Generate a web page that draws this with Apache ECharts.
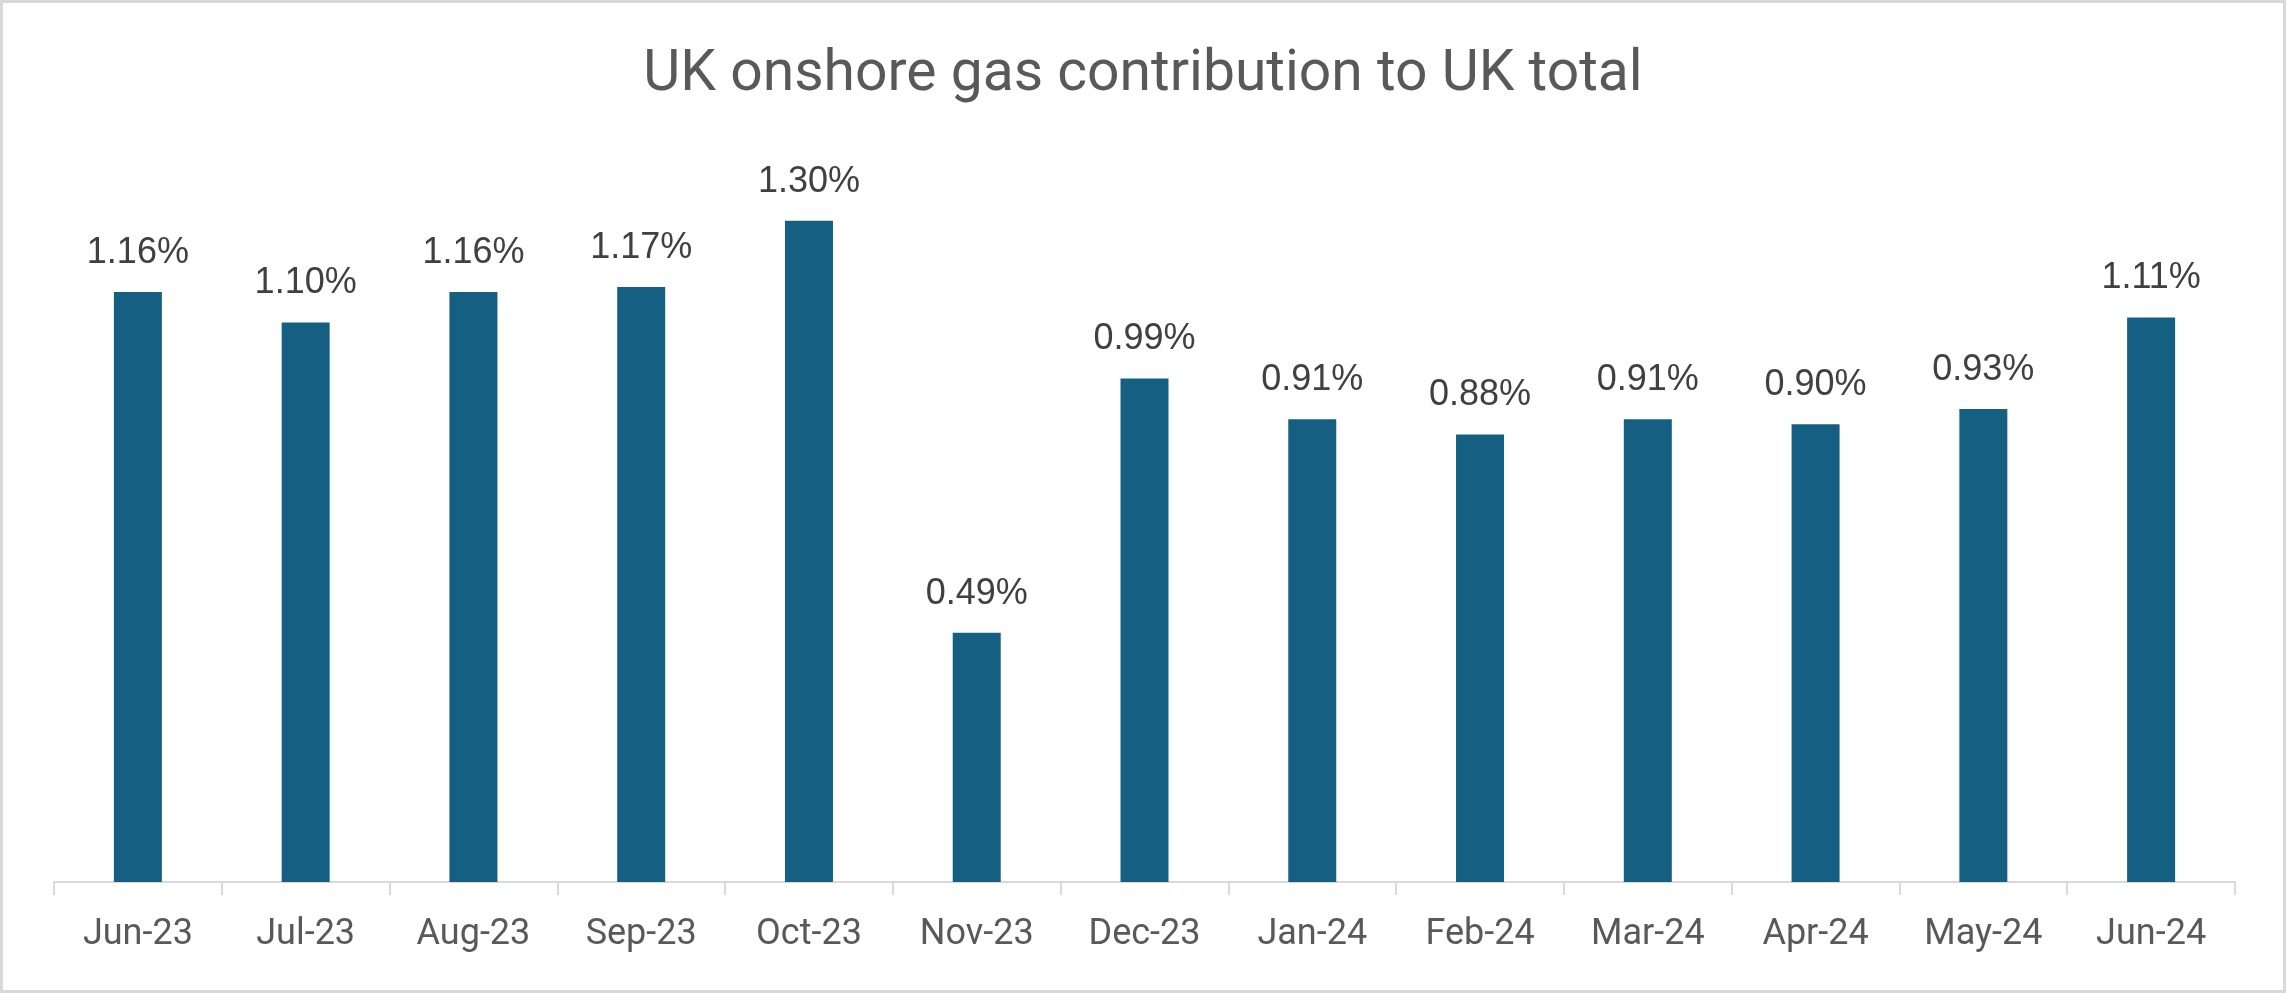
<!DOCTYPE html>
<html>
<head>
<meta charset="utf-8">
<style>
  html, body { margin: 0; padding: 0; background: #fff; }
  #chart { width: 2286px; height: 993px; }
</style>
<script src="https://cdn.jsdelivr.net/npm/echarts@6/dist/echarts.min.js"></script>
</head>
<body>
<div id="chart"></div>
<script>
const months = ['Jun-23', 'Jul-23', 'Aug-23', 'Sep-23', 'Oct-23', 'Nov-23', 'Dec-23',
  'Jan-24', 'Feb-24', 'Mar-24', 'Apr-24', 'May-24', 'Jun-24'];
const shares = [1.16, 1.10, 1.16, 1.17, 1.30, 0.49, 0.99, 0.91, 0.88, 0.91, 0.90, 0.93, 1.11];

const chart = echarts.init(document.getElementById('chart'));

const option = {
  backgroundColor: '#fff',
  animation: false,
  title: {
    text: 'UK onshore gas contribution to UK total',
    left: 'center',
    top: 42,
    textStyle: {
      fontFamily: 'Roboto',
      fontWeight: 'normal',
      fontSize: 57,
      color: '#595959'
    }
  },
  // outer frame
  graphic: [{
    type: 'rect',
    shape: { x: 1.5, y: 1.5, width: 2283, height: 990 },
    style: { fill: 'none', stroke: '#d9d9d9', lineWidth: 3 },
    silent: true
  }],
  grid: {
    left: 54,
    right: 51,
    top: 170,
    bottom: 111
  },
  xAxis: {
    type: 'category',
    data: months,
    axisLine: { lineStyle: { color: '#d9d9d9', width: 2 } },
    axisTick: { show: true, length: 13, lineStyle: { color: '#d9d9d9', width: 2 } },
    axisLabel: {
      margin: 35,
      fontFamily: 'Roboto',
      fontSize: 36,
      color: '#595959'
    }
  },
  yAxis: {
    type: 'value',
    min: 0,
    max: 1.4,
    show: false,
    splitLine: { show: false }
  },
  series: [{
    type: 'bar',
    data: shares,
    barWidth: 48,
    itemStyle: { color: '#156082' },
    label: {
      show: true,
      position: 'top',
      distance: 21,
      fontFamily: 'Liberation Sans',
      fontSize: 36,
      color: '#404040',
      formatter: p => p.value.toFixed(2) + '%'
    }
  }]
};

chart.setOption(option);
</script>
</body>
</html>
